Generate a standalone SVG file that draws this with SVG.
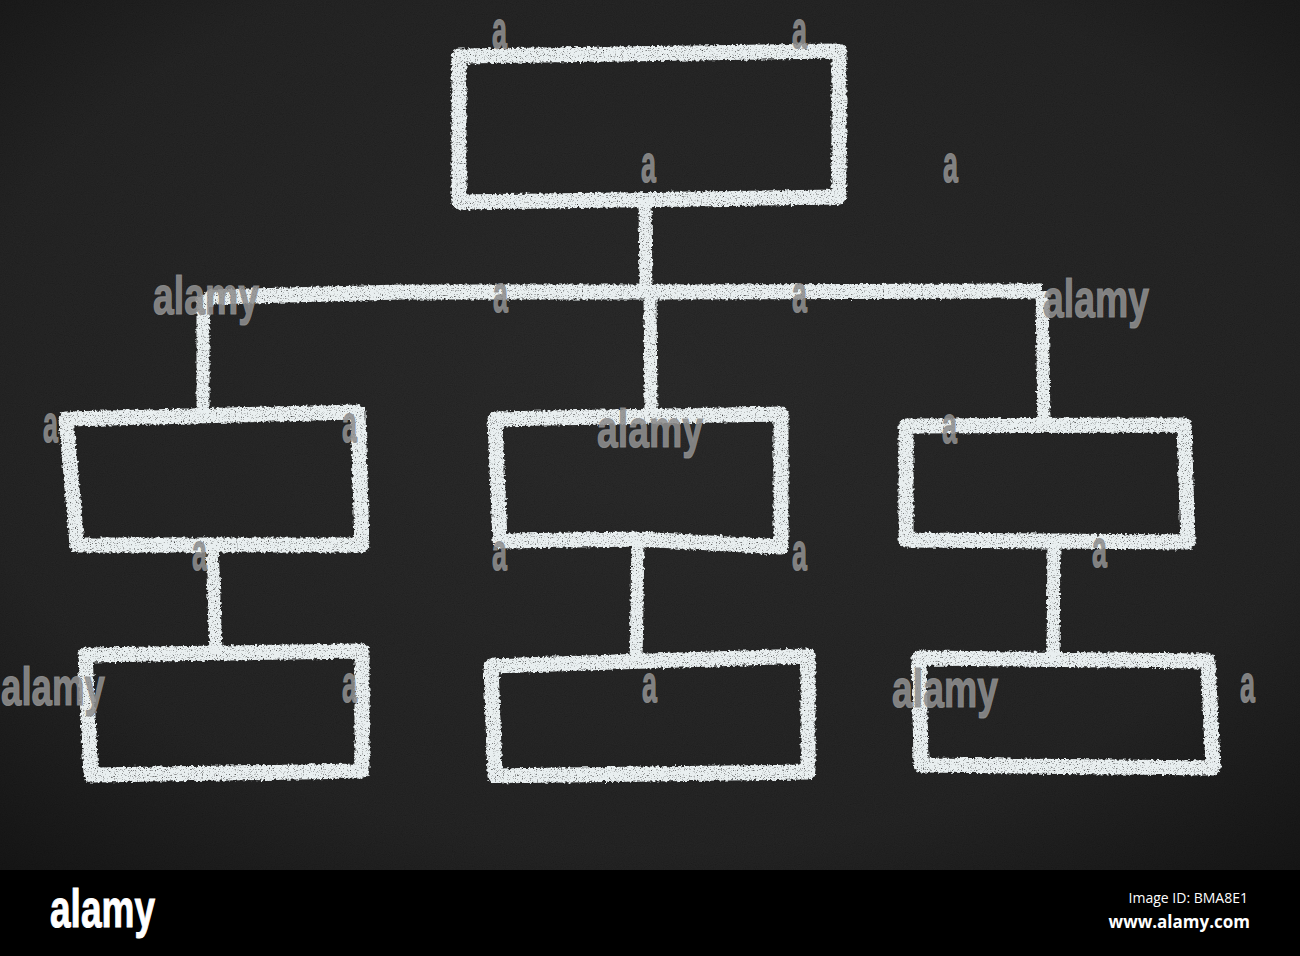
<svg xmlns="http://www.w3.org/2000/svg" width="1300" height="956" viewBox="0 0 1300 956">
  <style>
    .box { fill: none; stroke: #e9eff0; stroke-width: 15; stroke-linejoin: round; stroke-linecap: square; }
    .wire { fill: none; stroke: #e9eff0; stroke-width: 13; stroke-linecap: butt; stroke-linejoin: round; }
    .wm { font-family: "Liberation Sans", Arial, sans-serif; font-weight: bold; font-size: 54px; fill: #8e8e8e; fill-opacity: 0.9; stroke: #8e8e8e; stroke-opacity: 0.9; stroke-width: 1.2; }
    .foot { font-family: "Open Sans", "Noto Sans", sans-serif; fill: #ffffff; }
  </style>
  <defs>
    <filter id="chalk" filterUnits="userSpaceOnUse" x="0" y="0" width="1300" height="956">
      <feTurbulence type="fractalNoise" baseFrequency="0.35" numOctaves="2" seed="4" result="warp"/>
      <feDisplacementMap in="SourceGraphic" in2="warp" scale="5" xChannelSelector="R" yChannelSelector="G" result="rough"/>
      <feTurbulence type="fractalNoise" baseFrequency="0.85" numOctaves="2" seed="11" result="grain"/>
      <feColorMatrix in="grain" type="matrix" values="0 0 0 0 0  0 0 0 0 0  0 0 0 0 0  -2.8 0 0 0 2.6" result="speck"/>
      <feComposite in="rough" in2="speck" operator="in"/>
    </filter>
    <filter id="grain" filterUnits="userSpaceOnUse" x="0" y="0" width="1300" height="870">
      <feTurbulence type="fractalNoise" baseFrequency="0.9" numOctaves="2" seed="2"/>
      <feColorMatrix type="matrix" values="0.33 0.33 0.33 0 0  0.33 0.33 0.33 0 0  0.33 0.33 0.33 0 0  0 0 0 0 1"/>
    </filter>
    <radialGradient id="vig" cx="0.5" cy="0.45" r="0.75">
      <stop offset="0" stop-color="#000" stop-opacity="0"/>
      <stop offset="0.7" stop-color="#000" stop-opacity="0.15"/>
      <stop offset="1" stop-color="#000" stop-opacity="0.5"/>
    </radialGradient>
  </defs>

  <!-- chalkboard -->
  <rect x="0" y="0" width="1300" height="870" fill="#161616"/>
  <rect x="0" y="0" width="1300" height="870" fill="#fff" filter="url(#grain)" opacity="0.11"/>
  <rect x="0" y="0" width="1300" height="870" fill="url(#vig)"/>

  <!-- connectors -->
  <g id="connectors" filter="url(#chalk)">
    <path class="wire" d="M645,200 L646,292"/>
    <path class="wire" d="M203,304 L212,297 L400,292 L645,292 L1042,291" style="stroke-width:15"/>
    <path class="wire" d="M203,297 L203,413"/>
    <path class="wire" d="M650,292 L651,414"/>
    <path class="wire" d="M1042,291 L1044,424"/>
    <path class="wire" d="M212,545 L216,653"/>
    <path class="wire" d="M638,541 L636,662"/>
    <path class="wire" d="M1054,541 L1053,662"/>
  </g>

  <!-- nodes -->
  <g id="node-top" filter="url(#chalk)">
    <path class="box" d="M459,56 L839,51 L839,197 L459,202 Z"/>
  </g>
  <g id="node-mid-left" filter="url(#chalk)">
    <path class="box" d="M66,419 L358,412 L362,545 L77,545 Z"/>
  </g>
  <g id="node-mid-center" filter="url(#chalk)">
    <path class="box" d="M495,419 L781,414 L781,547 L640,539 L500,541 Z"/>
  </g>
  <g id="node-mid-right" filter="url(#chalk)">
    <path class="box" d="M906,426 L1184,425 L1188,542 L906,540 Z"/>
  </g>
  <g id="node-bottom-left" filter="url(#chalk)">
    <path class="box" d="M85,655 L362,651 L362,771 L91,775 Z"/>
  </g>
  <g id="node-bottom-center" filter="url(#chalk)">
    <path class="box" d="M491,666 L808,656 L808,772 L495,776 Z"/>
  </g>
  <g id="node-bottom-right" filter="url(#chalk)">
    <path class="box" d="M919,658 L1208,661 L1213,768 L921,765 Z"/>
  </g>

  <!-- watermarks -->
  <g id="watermarks">
    <text class="wm" x="153" y="314" textLength="106" lengthAdjust="spacingAndGlyphs">alamy</text>
    <text class="wm" x="597" y="447" textLength="106" lengthAdjust="spacingAndGlyphs">alamy</text>
    <text class="wm" x="1043" y="317" textLength="106" lengthAdjust="spacingAndGlyphs">alamy</text>
    <text class="wm" x="1" y="705" textLength="104" lengthAdjust="spacingAndGlyphs">alamy</text>
    <text class="wm" x="892" y="707" textLength="106" lengthAdjust="spacingAndGlyphs">alamy</text>
    <text class="wm" x="492" y="48" textLength="15" lengthAdjust="spacingAndGlyphs">a</text>
    <text class="wm" x="792" y="48" textLength="15" lengthAdjust="spacingAndGlyphs">a</text>
    <text class="wm" x="641" y="182" textLength="15" lengthAdjust="spacingAndGlyphs">a</text>
    <text class="wm" x="943" y="182" textLength="15" lengthAdjust="spacingAndGlyphs">a</text>
    <text class="wm" x="493" y="312" textLength="15" lengthAdjust="spacingAndGlyphs">a</text>
    <text class="wm" x="792" y="312" textLength="15" lengthAdjust="spacingAndGlyphs">a</text>
    <text class="wm" x="43" y="442" textLength="15" lengthAdjust="spacingAndGlyphs">a</text>
    <text class="wm" x="342" y="442" textLength="15" lengthAdjust="spacingAndGlyphs">a</text>
    <text class="wm" x="942" y="443" textLength="15" lengthAdjust="spacingAndGlyphs">a</text>
    <text class="wm" x="192" y="570" textLength="15" lengthAdjust="spacingAndGlyphs">a</text>
    <text class="wm" x="492" y="570" textLength="15" lengthAdjust="spacingAndGlyphs">a</text>
    <text class="wm" x="792" y="570" textLength="15" lengthAdjust="spacingAndGlyphs">a</text>
    <text class="wm" x="1092" y="567" textLength="15" lengthAdjust="spacingAndGlyphs">a</text>
    <text class="wm" x="342" y="702" textLength="15" lengthAdjust="spacingAndGlyphs">a</text>
    <text class="wm" x="642" y="702" textLength="15" lengthAdjust="spacingAndGlyphs">a</text>
    <text class="wm" x="1240" y="702" textLength="15" lengthAdjust="spacingAndGlyphs">a</text>
  </g>

  <!-- footer bar -->
  <rect x="0" y="870" width="1300" height="86" fill="#000"/>
  <text x="50" y="927" font-family="'Liberation Sans', Arial, sans-serif" font-weight="bold" font-size="54" fill="#fff" stroke="#fff" stroke-width="1" textLength="105" lengthAdjust="spacingAndGlyphs">alamy</text>
  <text class="foot" x="1248" y="903" font-size="14" text-anchor="end">Image ID: BMA8E1</text>
  <text class="foot" x="1250" y="928" font-size="17" font-weight="bold" text-anchor="end">www.alamy.com</text>
</svg>
